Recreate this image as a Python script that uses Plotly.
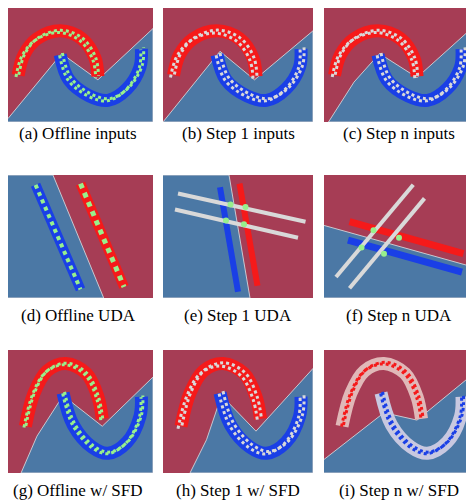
import plotly.graph_objects as go

# ------------------------------
# couleurs
RED_BG = '#A63D55'
BLUE_BG = '#4B78A5'
RED_PT = '#F51A1A'
BLUE_PT = '#1A3FE6'
GREEN_PT = '#98F08C'
WHITE_PT = '#D9D9D9'

CAPTIONS = ['(a) Offline inputs', '(b) Step 1 inputs', '(c) Step n inputs',
            '(d) Offline UDA', '(e) Step 1 UDA', '(f) Step n UDA',
            '(g) Offline w/ SFD', '(h) Step 1 w/ SFD', '(i) Step n w/ SFD']

# ------------------------------
# régions bleues (polygones)
A_BLUE_X = [0, 0.37, 0.62, 1, 1, 0]
A_BLUE_Y = [0.03, 0.60, 0.37, 0.82, 0, 0]
B_BLUE_X = [0, 0.38, 0.61, 1, 1, 0]
B_BLUE_Y = [0, 0.62, 0.37, 0.80, 0, 0]
C_BLUE_X = [0.03, 0.2, 0.37, 0.62, 1, 1, 0.03]
C_BLUE_Y = [0, 0.35, 0.60, 0.39, 0.84, 0, 0]
D_BLUE_X = [0, 0.31, 0.66, 0]
D_BLUE_Y = [1, 1, 0, 0]
E_BLUE_X = [0, 0.44, 0.58, 0]
E_BLUE_Y = [1, 1, 0, 0]
F_BLUE_X = [0, 1, 1, 0]
F_BLUE_Y = [0.59, 0.25, 0, 0]
G_BLUE_X = [0.09, 0.2, 0.38, 0.65, 1, 1, 0.09]
G_BLUE_Y = [0, 0.3, 0.63, 0.38, 0.78, 0, 0]
H_BLUE_X = [0.18, 0.29, 0.39, 0.62, 1, 1, 0.18]
H_BLUE_Y = [0, 0.27, 0.63, 0.34, 0.85, 0, 0]
I_BLUE_X = [0, 0.40, 0.62, 1, 1, 0]
I_BLUE_Y = [0.11, 0.49, 0.43, 0.81, 0, 0]

# ------------------------------
# lunes (rangée 1 et 3)
MOON_RED_X = [0.07, 0.11, 0.20, 0.36, 0.51, 0.60, 0.62]
MOON_RED_Y = [0.41, 0.59, 0.73, 0.80, 0.73, 0.56, 0.40]
MOON_BLUE_X = [0.36, 0.42, 0.56, 0.69, 0.82, 0.91, 0.92]
MOON_BLUE_Y = [0.59, 0.37, 0.23, 0.19, 0.29, 0.48, 0.64]
SFD_RED_X = [0.12, 0.18, 0.27, 0.40, 0.54, 0.62, 0.65]
SFD_RED_Y = [0.38, 0.65, 0.83, 0.89, 0.81, 0.62, 0.44]
SFD_BLUE_X = [0.38, 0.45, 0.58, 0.69, 0.82, 0.91, 0.92]
SFD_BLUE_Y = [0.65, 0.39, 0.21, 0.16, 0.25, 0.46, 0.62]

# ------------------------------
# segments (rangée 2)
D_BLUE_SEG_X = [0.19, 0.50]
D_BLUE_SEG_Y = [0.92, 0.07]
D_RED_SEG_X = [0.50, 0.80]
D_RED_SEG_Y = [0.93, 0.09]
E_BLUE_SEG_X = [0.38, 0.50]
E_BLUE_SEG_Y = [0.90, 0.05]
E_RED_SEG_X = [0.51, 0.63]
E_RED_SEG_Y = [0.93, 0.10]
E_WHITE1_X = [0.10, 0.95]
E_WHITE1_Y = [0.85, 0.62]
E_WHITE2_X = [0.08, 0.90]
E_WHITE2_Y = [0.72, 0.49]
E_GREEN_X = [0.45, 0.55, 0.42, 0.54]
E_GREEN_Y = [0.76, 0.74, 0.63, 0.60]
F_RED_SEG_X = [0.17, 0.93]
F_RED_SEG_Y = [0.62, 0.36]
F_BLUE_SEG_X = [0.16, 0.92]
F_BLUE_SEG_Y = [0.47, 0.21]
F_WHITE1_X = [0.08, 0.595]
F_WHITE1_Y = [0.17, 0.92]
F_WHITE2_X = [0.17, 0.67]
F_WHITE2_Y = [0.08, 0.81]
F_GREEN_X = [0.33, 0.50, 0.25, 0.40]
F_GREEN_Y = [0.55, 0.49, 0.41, 0.36]

# ------------------------------
# position des panneaux (pixels de la page, marge du navigateur = 8 px)
PAGE_OFF = 8
W, H = 474 - PAGE_OFF, 502 - PAGE_OFF
col_x = [(3, 153), (163, 313), (324, 474)]
row_y = [(0, 122), (175, 298), (350, 473)]
caption_y = [133, 315, 490]

fig = go.Figure()


def px_x(v):
    return max(v - PAGE_OFF, 0) / W


def px_y(v):
    return 1 - max(v - PAGE_OFF, 0) / H


def moon(ax, xs, ys, col, over, dx=0.0, dy=0.0):
    fig.add_trace(go.Scatter(x=xs, y=ys, mode='lines', line=dict(color=col, width=13, shape='spline'),
                             xaxis=ax[0], yaxis=ax[1], hoverinfo='skip'))
    fig.add_trace(go.Scatter(x=[v + dx for v in xs], y=[v + dy for v in ys], mode='lines',
                             line=dict(color=over, width=3, dash='dot', shape='spline'),
                             xaxis=ax[0], yaxis=ax[1], hoverinfo='skip'))
    fig.add_trace(go.Scatter(x=[v - dx * 0.3 for v in xs], y=[v - dy * 0.3 for v in ys], mode='lines',
                             line=dict(color=over, width=3, dash='dot', shape='spline'),
                             xaxis=ax[0], yaxis=ax[1], hoverinfo='skip'))


def seg(ax, xs, ys, col, width=6):
    fig.add_trace(go.Scatter(x=xs, y=ys, mode='lines', line=dict(color=col, width=width),
                             xaxis=ax[0], yaxis=ax[1], hoverinfo='skip'))


blue_regions = [(A_BLUE_X, A_BLUE_Y), (B_BLUE_X, B_BLUE_Y), (C_BLUE_X, C_BLUE_Y),
                (D_BLUE_X, D_BLUE_Y), (E_BLUE_X, E_BLUE_Y), (F_BLUE_X, F_BLUE_Y),
                (G_BLUE_X, G_BLUE_Y), (H_BLUE_X, H_BLUE_Y), (I_BLUE_X, I_BLUE_Y)]

axes = []
for k in range(9):
    r, c = divmod(k, 3)
    n = '' if k == 0 else str(k + 1)
    ax = ('x' + n, 'y' + n)
    axes.append(ax)
    x0, x1 = col_x[c]
    y0, y1 = row_y[r]
    fig.layout['xaxis' + n] = dict(domain=[px_x(x0), min(px_x(x1), 1)], range=[0, 1], visible=False, anchor=ax[1])
    fig.layout['yaxis' + n] = dict(domain=[px_y(y1), px_y(y0)], range=[0, 1], visible=False, anchor=ax[0])
    fig.add_shape(type='rect', xref=ax[0] + ' domain', yref=ax[1] + ' domain', x0=0, x1=1, y0=0, y1=1,
                  fillcolor=RED_BG, line_width=0, layer='below')
    bx, by = blue_regions[k]
    fig.add_trace(go.Scatter(x=bx, y=by, fill='toself', fillcolor=BLUE_BG, mode='lines',
                             line=dict(color='#C8C8D0', width=1), xaxis=ax[0], yaxis=ax[1], hoverinfo='skip'))
    fig.add_annotation(text=CAPTIONS[k], x=px_x((x0 + x1) / 2), y=px_y(caption_y[r]), xref='paper', yref='paper',
                       xanchor='center', yanchor='middle', showarrow=False,
                       font=dict(family='Liberation Serif', size=17, color='black'))

# rangée 1
moon(axes[0], MOON_RED_X, MOON_RED_Y, RED_PT, GREEN_PT, -0.015, -0.015)
moon(axes[0], MOON_BLUE_X, MOON_BLUE_Y, BLUE_PT, GREEN_PT, 0.015, 0.015)
moon(axes[1], MOON_RED_X, MOON_RED_Y, RED_PT, WHITE_PT, -0.02, -0.02)
moon(axes[1], MOON_BLUE_X, MOON_BLUE_Y, BLUE_PT, WHITE_PT, 0.02, 0.015)
moon(axes[2], MOON_RED_X, MOON_RED_Y, RED_PT, WHITE_PT, -0.015, -0.015)
moon(axes[2], MOON_BLUE_X, MOON_BLUE_Y, BLUE_PT, WHITE_PT, 0.02, 0.015)

# rangée 2
seg(axes[3], D_BLUE_SEG_X, D_BLUE_SEG_Y, BLUE_PT, 10)
seg(axes[3], D_RED_SEG_X, D_RED_SEG_Y, RED_PT, 10)
fig.add_trace(go.Scatter(x=D_BLUE_SEG_X, y=D_BLUE_SEG_Y, mode='lines', line=dict(color=GREEN_PT, width=4, dash='dot'),
                         xaxis='x4', yaxis='y4', hoverinfo='skip'))
fig.add_trace(go.Scatter(x=D_RED_SEG_X, y=D_RED_SEG_Y, mode='lines', line=dict(color=GREEN_PT, width=5, dash='dot'),
                         xaxis='x4', yaxis='y4', hoverinfo='skip'))
seg(axes[4], E_BLUE_SEG_X, E_BLUE_SEG_Y, BLUE_PT, 6)
seg(axes[4], E_RED_SEG_X, E_RED_SEG_Y, RED_PT, 6)
seg(axes[4], E_WHITE1_X, E_WHITE1_Y, WHITE_PT, 4)
seg(axes[4], E_WHITE2_X, E_WHITE2_Y, WHITE_PT, 4)
fig.add_trace(go.Scatter(x=E_GREEN_X, y=E_GREEN_Y, mode='markers', marker=dict(color=GREEN_PT, size=6),
                         xaxis='x5', yaxis='y5', hoverinfo='skip'))
seg(axes[5], F_RED_SEG_X, F_RED_SEG_Y, RED_PT, 7)
seg(axes[5], F_BLUE_SEG_X, F_BLUE_SEG_Y, BLUE_PT, 7)
seg(axes[5], F_WHITE1_X, F_WHITE1_Y, WHITE_PT, 4)
seg(axes[5], F_WHITE2_X, F_WHITE2_Y, WHITE_PT, 4)
fig.add_trace(go.Scatter(x=F_GREEN_X, y=F_GREEN_Y, mode='markers', marker=dict(color=GREEN_PT, size=6),
                         xaxis='x6', yaxis='y6', hoverinfo='skip'))

# rangée 3
moon(axes[6], SFD_RED_X, SFD_RED_Y, RED_PT, GREEN_PT, -0.01, -0.01)
moon(axes[6], SFD_BLUE_X, SFD_BLUE_Y, BLUE_PT, GREEN_PT, 0.01, 0.01)
moon(axes[7], SFD_RED_X, SFD_RED_Y, RED_PT, WHITE_PT, -0.02, -0.02)
moon(axes[7], SFD_BLUE_X, SFD_BLUE_Y, BLUE_PT, WHITE_PT, 0.02, 0.015)
moon(axes[8], SFD_RED_X, SFD_RED_Y, '#E0B8B8', RED_PT, 0.01, 0.01)
moon(axes[8], SFD_BLUE_X, SFD_BLUE_Y, '#C8C8E0', BLUE_PT, 0.01, 0.01)

fig.update_layout(width=W, height=H, margin=dict(l=0, r=0, t=0, b=0), showlegend=False,
                  paper_bgcolor='white', plot_bgcolor='rgba(0,0,0,0)')

fig.write_html('out.html')
